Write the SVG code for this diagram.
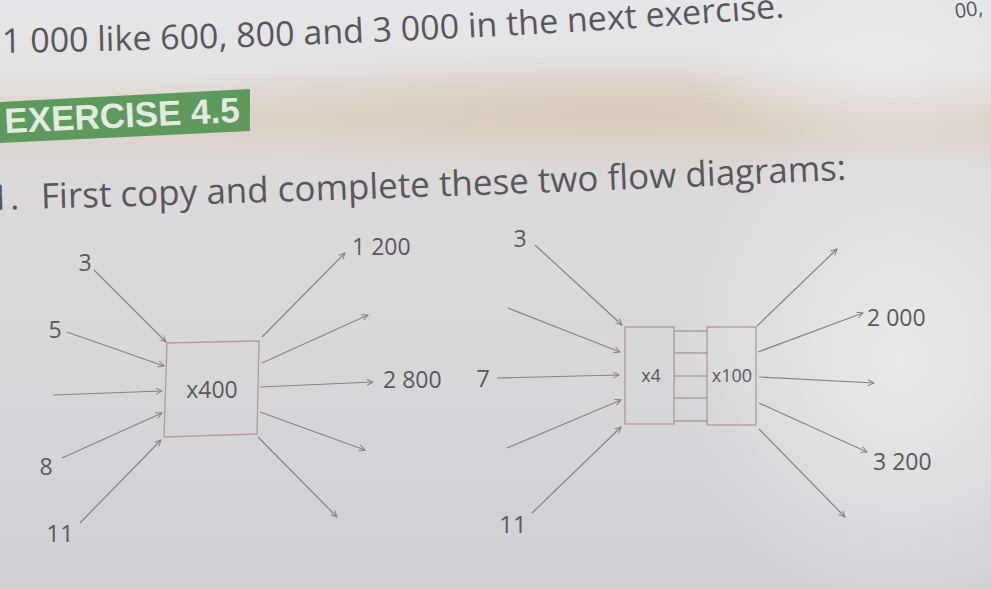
<svg xmlns="http://www.w3.org/2000/svg" width="991" height="589" viewBox="0 0 991 589">
<defs>
<linearGradient id="bg" x1="0" y1="0" x2="0" y2="1">
<stop offset="0" stop-color="#e6e6ea"/>
<stop offset="0.12" stop-color="#e4e2e3"/>
<stop offset="0.2" stop-color="#ddd4ca"/>
<stop offset="0.3" stop-color="#dcd9da"/>
<stop offset="0.6" stop-color="#d8d8db"/>
<stop offset="1" stop-color="#cfd0d4"/>
</linearGradient>
<radialGradient id="beige" cx="0.5" cy="0.5" r="0.5">
<stop offset="0" stop-color="#d6c7b6" stop-opacity="0.8"/>
<stop offset="1" stop-color="#d6c7b6" stop-opacity="0"/>
</radialGradient>
<radialGradient id="light" cx="0.5" cy="0.5" r="0.5">
<stop offset="0" stop-color="#ececee" stop-opacity="0.9"/>
<stop offset="1" stop-color="#ececee" stop-opacity="0"/>
</radialGradient>
<marker id="ah" viewBox="0 0 8 8" refX="7" refY="4" markerWidth="8" markerHeight="8" markerUnits="userSpaceOnUse" orient="auto">
<path d="M1,1 L7,4 L1,7" fill="none" stroke="#8a8080" stroke-width="1"/>
</marker>
<path id="line1" d="M2,53 Q420,46 790,17"/>
<path id="line2" d="M-10,210 Q520,196 880,178"/>
</defs>
<style>
.lbl{font-family:"Open Sans","Noto Sans",sans-serif;fill:#5a5a5c;}
.hd{font-family:"Open Sans","Noto Sans",sans-serif;fill:#58585b;}
.box{fill:none;stroke:#b89c9c;stroke-width:1.4;}
.cn line{stroke:#8a8282;stroke-width:1.2;marker-end:url(#ah);}
.bar{stroke:#8f8686;stroke-width:1.2;}
</style>
<rect x="0" y="0" width="991" height="589" fill="url(#bg)"/>
<ellipse cx="620" cy="110" rx="520" ry="60" fill="url(#beige)"/>
<ellipse cx="900" cy="360" rx="220" ry="260" fill="url(#light)"/>
<ellipse cx="880" cy="60" rx="200" ry="90" fill="url(#light)"/>

<g id="header">
<text class="hd" font-size="34"><textPath href="#line1">1 000 like 600, 800 and 3 000 in the next exercise.</textPath></text>
<text class="hd" font-size="20" fill="#8a8a8c" x="955" y="17" transform="rotate(-8 965 12)">00,</text>
</g>

<g id="banner">
<polygon points="0,102 250,89 250,131 0,143" fill="#5e9a5e"/>
<text x="5" y="133" transform="rotate(-2.7 5 133)" font-family="'Liberation Sans',Arial,sans-serif" font-weight="bold" font-size="35" fill="#e3ebe0">EXERCISE 4.5</text>
</g>

<g id="question">
<text class="hd" font-size="35"><textPath href="#line2">1.<tspan dx="22">First copy and complete these two flow diagrams:</tspan></textPath></text>
</g>

<g id="connectors" class="cn">
<line x1="94" y1="270" x2="166" y2="342"/>
<line x1="67" y1="332" x2="164" y2="366"/>
<line x1="53" y1="395" x2="162" y2="391"/>
<line x1="62" y1="458" x2="162" y2="413"/>
<line x1="80" y1="523" x2="161" y2="440"/>
<line x1="262" y1="337" x2="345" y2="253"/>
<line x1="262" y1="363" x2="368" y2="315"/>
<line x1="260" y1="387" x2="373" y2="382"/>
<line x1="260" y1="412" x2="365" y2="450"/>
<line x1="258" y1="437" x2="337" y2="517"/>
<line x1="535" y1="245" x2="622" y2="325"/>
<line x1="508" y1="308" x2="620" y2="352"/>
<line x1="497" y1="378" x2="619" y2="375"/>
<line x1="507" y1="448" x2="621" y2="400"/>
<line x1="532" y1="513" x2="621" y2="427"/>
<line x1="757" y1="326" x2="837" y2="249"/>
<line x1="758" y1="352" x2="863" y2="313"/>
<line x1="759" y1="377" x2="874" y2="383"/>
<line x1="759" y1="403" x2="867" y2="452"/>
<line x1="759" y1="429" x2="845" y2="517"/>
</g>

<g id="node-x400">
<polygon class="box" points="167,343 259,341 257,434 164,437"/>
<text class="lbl" x="212" y="398" font-size="23" text-anchor="middle">x400</text>
</g>

<g id="node-x4">
<rect class="box" x="625" y="327" width="49" height="97"/>
<text class="lbl" x="651" y="382" font-size="18" text-anchor="middle">x4</text>
</g>

<g id="node-x100">
<rect class="box" x="707" y="327" width="49" height="98"/>
<text class="lbl" x="732" y="382" font-size="18" text-anchor="middle">x100</text>
</g>

<g id="links">
<line class="bar" x1="674" y1="331" x2="707" y2="331"/>
<line class="bar" x1="674" y1="353" x2="707" y2="353"/>
<line class="bar" x1="674" y1="376" x2="707" y2="376"/>
<line class="bar" x1="674" y1="398" x2="707" y2="398"/>
<line class="bar" x1="674" y1="421" x2="707" y2="421"/>
</g>

<g id="labels-left">
<text class="lbl" x="85" y="271" font-size="23" text-anchor="middle">3</text>
<text class="lbl" x="55" y="338" font-size="23" text-anchor="middle">5</text>
<text class="lbl" x="46" y="475" font-size="23" text-anchor="middle">8</text>
<text class="lbl" x="60" y="542" font-size="24" text-anchor="middle">11</text>
<text class="lbl" x="352" y="255" font-size="23">1 200</text>
<text class="lbl" x="383" y="388" font-size="23">2 800</text>
</g>

<g id="labels-right">
<text class="lbl" x="520" y="247" font-size="23" text-anchor="middle">3</text>
<text class="lbl" x="483" y="387" font-size="24" text-anchor="middle">7</text>
<text class="lbl" x="513" y="533" font-size="24" text-anchor="middle">11</text>
<text class="lbl" x="867" y="326" font-size="23">2 000</text>
<text class="lbl" x="873" y="470" font-size="23">3 200</text>
</g>
</svg>
